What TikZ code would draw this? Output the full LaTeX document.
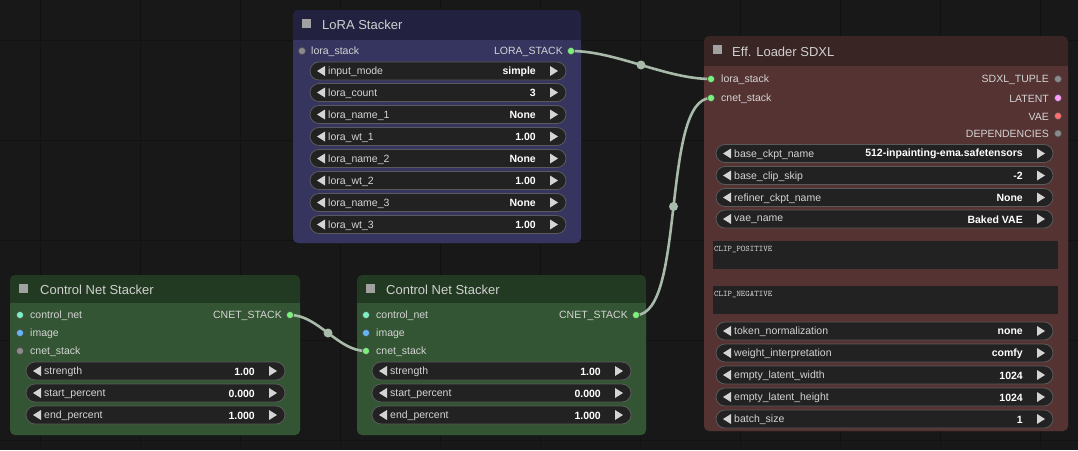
\documentclass[tikz,border=0pt]{standalone}
\usepackage{fontspec}
\setmainfont{Liberation Sans}
\begin{document}
\begin{tikzpicture}[x=1pt,y=-1pt,
  lbl/.style={text=lbltxt,font=\fontsize{10.5}{12}\selectfont,inner sep=0pt},
  val/.style={text=white,font=\fontsize{10.5}{12}\selectfont\bfseries,inner sep=0pt},
  ttl/.style={text=ttltxt,font=\fontsize{13}{15}\selectfont,inner sep=0pt,anchor=west},
  widg/.style={draw=widbd,fill=widfill,rounded corners=9pt,line width=0.8pt},
  tri/.style={fill=lbltxt},
  link/.style={draw=linkc,line width=2.6pt},
  mdot/.style={circle,fill=linkc,inner sep=0pt,minimum size=9pt}]
\definecolor{bg}{HTML}{181818}
\definecolor{gridc}{HTML}{121212}
\definecolor{lbltxt}{HTML}{D4D4D4}
\definecolor{ttltxt}{HTML}{D0D0D0}
\definecolor{widfill}{HTML}{222222}
\definecolor{widbd}{HTML}{5A5A5A}
\definecolor{linkc}{HTML}{A8BAAA}
\definecolor{gslot}{HTML}{7CF07C}
\definecolor{greyslot}{HTML}{8A8A8A}
\definecolor{mint}{HTML}{7EEFC2}
\definecolor{blueslot}{HTML}{64B5F6}
\definecolor{pinkslot}{HTML}{FF9CF9}
\definecolor{redslot}{HTML}{FF6E6E}
\definecolor{loratitle}{HTML}{222240}
\definecolor{lorabody}{HTML}{353560}
\definecolor{efftitle}{HTML}{3A2525}
\definecolor{effbody}{HTML}{553333}
\definecolor{cntitle}{HTML}{223A22}
\definecolor{cnbody}{HTML}{335533}
\newcommand{\wid}[5]{%
  \fill[widg] (#1,#3-9) rectangle (#2,#3+9);
  \fill[tri] (#1+7,#3) -- (#1+15,#3-5) -- (#1+15,#3+5) -- cycle;
  \fill[tri] (#2-8,#3) -- (#2-16,#3-5) -- (#2-16,#3+5) -- cycle;
  \node[lbl,anchor=west] at (#1+18,#3+0.8) {#4};
  \node[val,anchor=east] at (#2-30,#3+0.8) {#5};}
\newcommand{\nodebox}[7]{% x1 x2 ytitle ybody yend titlecol bodycol
  \fill[#6,rounded corners=5pt] (#1,#3) rectangle (#2,#5);
  \fill[#7,rounded corners=5pt] (#1,#4) rectangle (#2,#5);
  \fill[#7] (#1,#4) rectangle (#2,#4+8);
  \fill[greyslot!80] (#1+9,#3+9) rectangle (#1+18,#3+18);}
\newcommand{\slotdot}[3]{\fill[#3,draw=black!70,line width=0.6pt] (#1,#2) circle (3.6);}
\fill[bg] (0,0) rectangle (1078,450);
\useasboundingbox (0,0) rectangle (1078,450);
\foreach \gx in {0,100,...,1000} \draw[gridc,line width=0.6pt] (\gx+40,0) -- (\gx+40,450);
\foreach \gy in {0,100,...,400} \draw[gridc,line width=0.6pt] (0,\gy+40) -- (1078,\gy+40);

\nodebox{293}{581}{10}{40}{243}{loratitle}{lorabody}
\node[ttl] (loratitle) at (322,25) {LoRA Stacker};
\slotdot{302}{51}{greyslot}
\node[lbl,anchor=west] at (311,51.8) {lora\_stack};
\node[lbl,anchor=east] at (563,51.8) {LORA\_STACK};
\coordinate (loraout) at (571,51);
\wid{310}{566}{71}{input\_mode}{simple}
\wid{310}{566}{92.5}{lora\_count}{3}
\wid{310}{566}{114.5}{lora\_name\_1}{None}
\wid{310}{566}{136.5}{lora\_wt\_1}{1.00}
\wid{310}{566}{158.5}{lora\_name\_2}{None}
\wid{310}{566}{180.5}{lora\_wt\_2}{1.00}
\wid{310}{566}{202.5}{lora\_name\_3}{None}
\wid{310}{566}{224.5}{lora\_wt\_3}{1.00}

\nodebox{704}{1068}{36}{66}{431}{efftitle}{effbody}
\node[ttl] (efftitle) at (732,51.5) {Eff. Loader SDXL};
\coordinate (efflora) at (711,79);
\node[lbl,anchor=west] at (721,79.8) {lora\_stack};
\coordinate (effcnet) at (711,98);
\node[lbl,anchor=west] at (721,98.8) {cnet\_stack};
\node[lbl,anchor=east] at (1049,79.8) {SDXL\_TUPLE};
\slotdot{1058}{79}{greyslot}
\node[lbl,anchor=east] at (1049,98.8) {LATENT};
\slotdot{1058}{98}{pinkslot}
\node[lbl,anchor=east] at (1049,116.8) {VAE};
\slotdot{1058}{116}{redslot}
\node[lbl,anchor=east] at (1049,134.3) {DEPENDENCIES};
\slotdot{1058}{133.5}{greyslot}
\wid{716}{1053}{153.5}{base\_ckpt\_name}{512-inpainting-ema.safetensors}
\wid{716}{1053}{175.5}{base\_clip\_skip}{-2}
\wid{716}{1053}{197.5}{refiner\_ckpt\_name}{None}
\wid{716}{1053}{219}{vae\_name}{Baked VAE}
\fill[widfill] (713,241) rectangle (1058,269);
\node[text=lbltxt,font=\ttfamily\fontsize{8.5}{10}\selectfont,inner sep=0pt,anchor=west] at (714,249) {CLIP\_POSITIVE};
\fill[widfill] (713,286) rectangle (1058,314);
\node[text=lbltxt,font=\ttfamily\fontsize{8.5}{10}\selectfont,inner sep=0pt,anchor=west] at (714,294) {CLIP\_NEGATIVE};
\wid{716}{1053}{331}{token\_normalization}{none}
\wid{716}{1053}{353}{weight\_interpretation}{comfy}
\wid{716}{1053}{375}{empty\_latent\_width}{1024}
\wid{716}{1053}{397}{empty\_latent\_height}{1024}
\wid{716}{1053}{419}{batch\_size}{1}

\nodebox{10}{300}{275}{303}{435}{cntitle}{cnbody}
\node[ttl] (cn1title) at (40,290) {Control Net Stacker};
\slotdot{20}{315}{mint}
\node[lbl,anchor=west] at (30,315.8) {control\_net};
\slotdot{20}{333}{blueslot}
\node[lbl,anchor=west] at (30,333.8) {image};
\slotdot{20}{351}{greyslot}
\node[lbl,anchor=west] at (30,351.8) {cnet\_stack};
\node[lbl,anchor=east] at (282,315.8) {CNET\_STACK};
\coordinate (cn1out) at (290,315);
\wid{26}{285}{371}{strength}{1.00}
\wid{26}{285}{393}{start\_percent}{0.000}
\wid{26}{285}{415}{end\_percent}{1.000}

\nodebox{357}{646}{275}{303}{435}{cntitle}{cnbody}
\node[ttl] (cn2title) at (386,290) {Control Net Stacker};
\slotdot{366}{315}{mint}
\node[lbl,anchor=west] at (376,315.8) {control\_net};
\slotdot{366}{333}{blueslot}
\node[lbl,anchor=west] at (376,333.8) {image};
\coordinate (cn2in) at (366,351);
\node[lbl,anchor=west] at (376,351.8) {cnet\_stack};
\node[lbl,anchor=east] at (628,315.8) {CNET\_STACK};
\coordinate (cn2out) at (636,315);
\wid{372}{631}{371}{strength}{1.00}
\wid{372}{631}{393}{start\_percent}{0.000}
\wid{372}{631}{415}{end\_percent}{1.000}

\draw[link] (loraout) .. controls +(45,0) and +(-45,0) .. (efflora);
\node[mdot] (m1) at (641,65) {};
\draw[link] (cn1out) .. controls +(28,0) and +(-28,0) .. (cn2in);
\node[mdot] (m2) at (328,333) {};
\draw[link] (cn2out) .. controls +(50,0) and +(-50,0) .. (effcnet);
\node[mdot] (m3) at (673.5,206.5) {};
\slotdot{571}{51}{gslot}
\slotdot{711}{79}{gslot}
\slotdot{711}{98}{gslot}
\slotdot{290}{315}{gslot}
\slotdot{366}{351}{gslot}
\slotdot{636}{315}{gslot}
\end{tikzpicture}
\end{document}
